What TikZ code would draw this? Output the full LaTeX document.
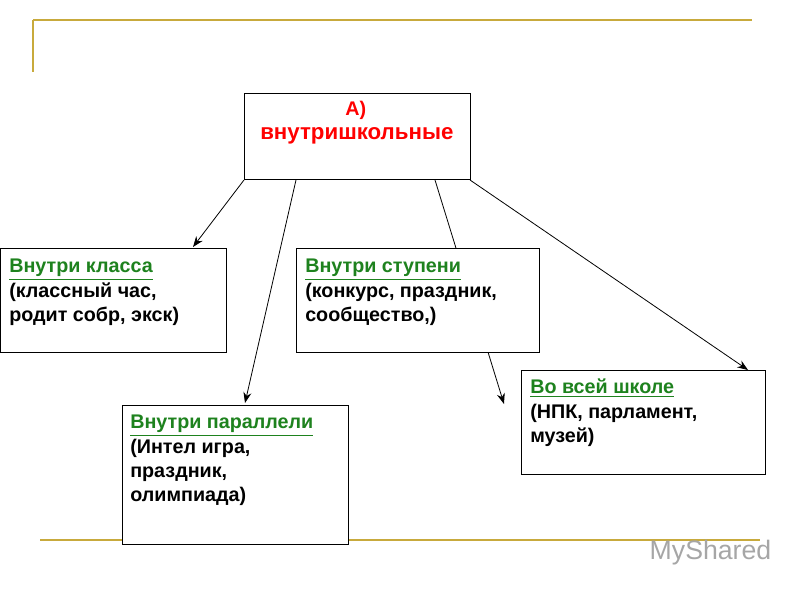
\documentclass[tikz,border=0pt]{standalone}
\usepackage{fontspec}
\setmainfont{Liberation Sans}
\usetikzlibrary{arrows.meta}
\definecolor{gold}{RGB}{200,170,60}
\definecolor{grn}{RGB}{30,130,30}
\begin{document}
\begin{tikzpicture}[x=0.75pt,y=-0.75pt,
  box/.style={draw,fill=white,line width=0.8pt,anchor=north west,inner sep=0pt},
  txt/.style={anchor=north west,align=left,font=\fontsize{14.8}{18.2}\selectfont\bfseries,inner sep=0pt},
  arr/.style={-{Stealth[length=8pt,width=6pt]},line width=0.6pt}]
\useasboundingbox (0,0) rectangle (800,600);
\draw[gold,line width=1.2pt] (33,20) -- (752,20);
\draw[gold,line width=1.2pt] (33,20) -- (33,72);
\draw[gold,line width=1.2pt] (40,540) -- (760,540);
\node[box,minimum width=226*0.75pt,minimum height=86*0.75pt] (top) at (244,93) {};
\node[txt,text=red] (ta) at (345,101) {А)};
\node[txt,text=red,font=\fontsize{16.7}{18}\selectfont\bfseries] (tb) at (260,127) {внутришкольные};
\coordinate (c1) at (244,180);
\coordinate (c2) at (296,180);
\coordinate (c3) at (435,180);
\coordinate (c4) at (470,180);
\coordinate (e1) at (193,247);
\coordinate (e2) at (245,403);
\coordinate (e3) at (504,404);
\coordinate (e4) at (748,370);
\draw[arr] (c1) -- (e1);
\draw[arr] (c2) -- (e2);
\draw[arr] (c3) -- (e3);
\draw[arr] (c4) -- (e4);
\node[box,minimum width=226*0.75pt,minimum height=104*0.75pt] (b1) at (0,248) {};
\node[txt] (t1) at (9,259) {\textcolor{grn}{\underline{Внутри класса}}\\(классный час,\\родит собр, экск)};
\node[box,minimum width=243*0.75pt,minimum height=104*0.75pt] (b2) at (296,248) {};
\node[txt] (t2) at (305,259) {\textcolor{grn}{\underline{Внутри ступени}}\\(конкурс, праздник,\\сообщество,)};
\node[box,minimum width=226*0.75pt,minimum height=139*0.75pt] (b3) at (122,405) {};
\node[txt] (t3) at (130,415) {\textcolor{grn}{\underline{Внутри параллели}}\\(Интел игра,\\праздник,\\олимпиада)};
\node[box,minimum width=244*0.75pt,minimum height=104*0.75pt] (b4) at (521,370) {};
\node[txt] (t4) at (530,379) {\textcolor{grn}{\underline{Во всей школе}}\\(НПК, парламент,\\музей)};
\node[anchor=west,text=gray!70,font=\fontsize{20}{20}\selectfont] (wm) at (645,553) {MyShared};
\end{tikzpicture}
\end{document}
